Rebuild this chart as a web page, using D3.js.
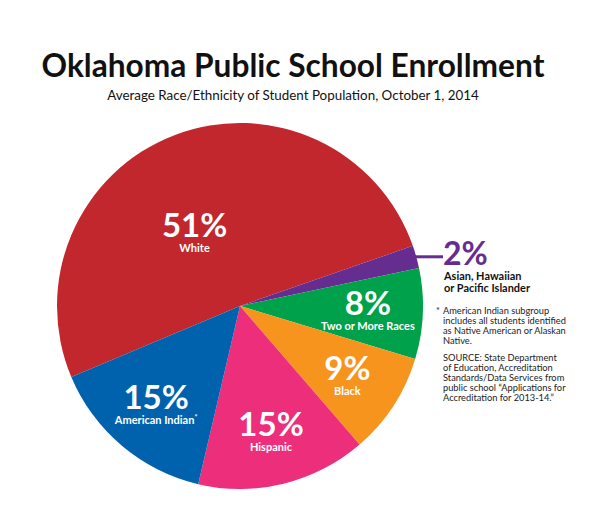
<!DOCTYPE html>
<html>
<head>
<meta charset="utf-8">
<script src="https://cdn.jsdelivr.net/npm/d3@7"></script>
<style>
  body { margin: 0; background: white; }
  text { font-family: Lato, "Open Sans", sans-serif; }
</style>
</head>
<body>
<script>
// data
const groups = ["White", "Asian, Hawaiian or Pacific Islander", "Two or More Races", "Black", "Hispanic", "American Indian*"]
const shares = [51, 2, 8, 9, 15, 15]
const sliceColors = ["#c1272d", "#662d91", "#00a14b", "#f7941d", "#ec2e7b", "#0061ad"]
const outsideLines = ["Asian, Hawaiian", "or Pacific Islander"]
const footnoteLines = ["American Indian subgroup", "includes all students identified", "as Native American or Alaskan", "Native."]
const sourceLines = ["SOURCE: State Department", "of Education, Accreditation", "Standards/Data Services from", "public school \u201CApplications for", "Accreditation for 2013-14.\u201D"]
const title = "Oklahoma Public School Enrollment"
const subtitle = "Average Race/Ethnicity of Student Population, October 1, 2014"

const [width, height] = [598, 532]
const [cx, cy, r] = [240, 306, 183]
const start = -112.8 * Math.PI / 180

const svg = d3.select("body").append("svg")
    .attr("width", width)
    .attr("height", height)

// fits text elements to a width by scaling their font size (widest one decides)
function fit(sel, w) {
    let l = 0
    sel.each(function () { l = Math.max(l, this.getComputedTextLength()) })
    sel.attr("font-size", +sel.attr("font-size") * w / l)
}

// TITLES
const t = svg.append("text")
    .attr("x", 293).attr("y", 77)
    .attr("text-anchor", "middle")
    .attr("font-size", 32).attr("font-weight", 700)
    .attr("fill", "#111")
    .text(title)
fit(t, 503)

const st = svg.append("text")
    .attr("x", 293).attr("y", 100)
    .attr("text-anchor", "middle")
    .attr("font-size", 13)
    .attr("fill", "#111")
    .text(subtitle)
fit(st, 372)

// PIE
const data = groups.map((g, i) => ({ name: g, value: shares[i], color: sliceColors[i] }))
const pie = d3.pie().sort(null).value(d => d.value).startAngle(start).endAngle(start + 2 * Math.PI)
const arcs = pie(data)
const arc = d3.arc().innerRadius(0).outerRadius(r)

const g = svg.append("g").attr("transform", `translate(${cx},${cy})`)

g.selectAll("path")
    .data(arcs)
    .enter()
    .append("path")
        .attr("d", arc)
        .attr("fill", d => d.data.color)

// inner labels (slices big enough to hold text)
const labelPos = d => {
    const big = d.data.value > 40
    const a = (d.startAngle + d.endAngle) / 2 - (big ? 0.19 : 0)
    const rr = big ? 86 : (d.data.value > 12 ? 130 : 128)
    return [rr * Math.sin(a), -rr * Math.cos(a)]
}

const inner = g.selectAll("g.lab")
    .data(arcs.filter(d => d.data.value >= 5))
    .enter()
    .append("g")
        .attr("class", "lab")
        .attr("transform", d => `translate(${labelPos(d)})`)

inner.append("text")
    .attr("y", 4)
    .attr("text-anchor", "middle")
    .attr("font-size", 33).attr("font-weight", 700)
    .attr("fill", "white")
    .text(d => d.value + "%")

const names = inner.append("text")
    .attr("y", 19)
    .attr("text-anchor", "middle")
    .attr("font-size", 11).attr("font-weight", 700)
    .attr("fill", "white")
names.append("tspan").text(d => d.data.name.replace("*", ""))
names.filter(d => d.data.name.endsWith("*"))
    .append("tspan")
        .attr("font-size", 7).attr("dy", -4)
        .text("*")

// small slice: leader line + outside label
const small = arcs.filter(d => d.data.value < 5)
small.forEach(d => {
    const a = (d.startAngle + d.endAngle) / 2
    const [x0, y0] = [cx + r * Math.sin(a), cy - r * Math.cos(a)]
    svg.append("line")
        .attr("x1", x0 - 2).attr("y1", y0)
        .attr("x2", 443).attr("y2", y0)
        .attr("stroke", d.data.color)
        .attr("stroke-width", 3)
    svg.append("text")
        .attr("x", 443).attr("y", 265)
        .attr("font-size", 32).attr("font-weight", 700)
        .attr("fill", d.data.color)
        .text(d.value + "%")
    const ol = svg.append("g").selectAll("text")
        .data(outsideLines)
        .enter()
        .append("text")
            .attr("x", 444)
            .attr("y", (s, i) => 280 + i * 11.5)
            .attr("font-size", 12).attr("font-weight", 700)
            .attr("fill", "#111")
            .text(s => s)
    fit(ol, 86)
})

// NOTES
svg.append("text")
    .attr("x", 436).attr("y", 314)
    .attr("font-size", 9)
    .attr("fill", "#222")
    .text("*")

const notes = svg.append("g").selectAll("text")
    .data(footnoteLines.map((s, i) => [s, 314 + i * 10])
        .concat(sourceLines.map((s, i) => [s, 361 + i * 10])))
    .enter()
    .append("text")
        .attr("x", 443)
        .attr("y", d => d[1])
        .attr("font-size", 10)
        .attr("fill", "#222")
        .text(d => d[0])
fit(notes, 123)
</script>
</body>
</html>
